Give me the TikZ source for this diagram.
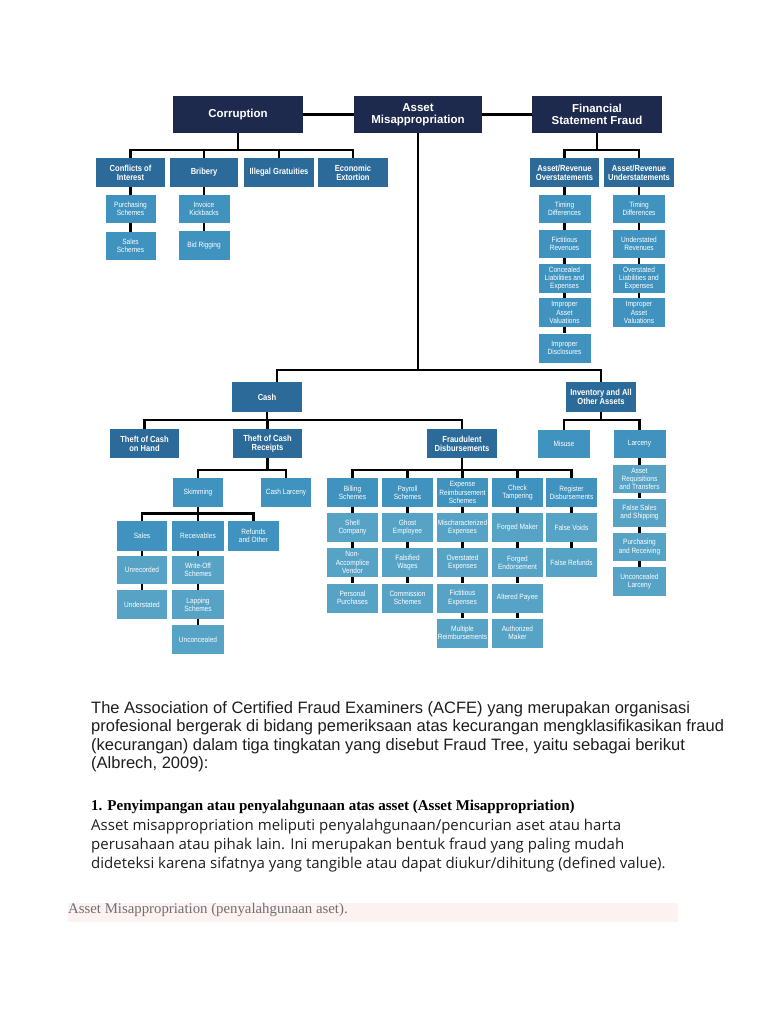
\documentclass[tikz,border=0pt]{standalone}
\usepackage{fontspec}
\usepackage{graphicx}
\usetikzlibrary{backgrounds}
\newfontfamily\boxsans[FakeStretch=0.86]{Liberation Sans}
\newfontfamily\topsans{Liberation Sans}
\newfontfamily\arialf{Liberation Sans}
\newfontfamily\opensf{Open Sans}
\newfontfamily\timesf{Liberation Serif}
\definecolor{navy}{HTML}{1D2A4D}
\definecolor{midblue}{HTML}{2B6A99}
\definecolor{lightA}{HTML}{3F93BE}
\definecolor{lightB}{HTML}{56A3C6}
\definecolor{txtdark}{HTML}{1E1E1E}
\definecolor{capgray}{HTML}{707070}
\definecolor{bandpink}{HTML}{FDF2F2}
\tikzset{
  bx/.style={rectangle, inner sep=0pt, align=center, text=white},
  lvone/.style={bx, fill=navy, minimum width=130pt, minimum height=37pt,
    font=\topsans\bfseries\fontsize{11.5}{12.5}\selectfont},
  lvtwo/.style={bx, fill=midblue, minimum width=70pt, minimum height=29pt,
    font=\boxsans\bfseries\fontsize{8.8}{9.2}\selectfont},
  lvthree/.style={bx, fill=lightA, minimum width=51pt, minimum height=29pt,
    font=\boxsans\fontsize{7.6}{8.2}\selectfont},
  lvfour/.style={lvthree, fill=lightB},
  conn/.style={draw=black, line width=2.6pt, line join=miter},
  topconn/.style={draw=black, line width=3.2pt},
  txt/.style={inner sep=0pt, anchor=base west}
}
\begin{document}
\begin{tikzpicture}[x=1pt,y=-1pt]
\useasboundingbox (0,0) rectangle (768,1024);

% ---- top level
\node[lvone, minimum width=130pt] (corr) at (238,114.5) {Corruption};
\node[lvone, minimum width=128pt] (am) at (418,114.5) {Asset\\Misappropriation};
\node[lvone] (fsf) at (597,114.5) {Financial\\Statement Fraud};

% ---- corruption
\node[lvtwo, minimum width=69pt] (coi) at (130.5,172.5) {Conflicts of\\Interest};
\node[lvtwo, minimum width=68pt] (bri) at (204,172.5) {Bribery};
\node[lvtwo] (ill) at (279,172.5) {Illegal Gratuities};
\node[lvtwo] (eco) at (353,172.5) {Economic\\Extortion};
\node[lvthree, minimum width=50pt, minimum height=28pt] (ps) at (130.5,209) {Purchasing\\Schemes};
\node[lvthree, minimum width=50pt, minimum height=28pt] (ss) at (130.5,246) {Sales\\Schemes};
\node[lvthree, minimum width=51pt, minimum height=28pt] (ik) at (204,209) {Invoice\\Kickbacks};
\node[lvthree, minimum width=51pt, minimum height=28pt] (bid) at (204,245.5) {Bid Rigging};

% ---- financial statement fraud
\node[lvtwo, minimum width=69pt] (aro) at (564.5,172.5) {Asset/Revenue\\Overstatements};
\node[lvtwo] (aru) at (639,172.5) {Asset/Revenue\\Understatements};
\node[lvthree, minimum width=52pt, minimum height=28pt] (oa) at (564.5,209) {Timing\\Differences};
\node[lvthree, minimum width=52pt, minimum height=28pt] (ob) at (564.5,244) {Fictitious\\Revenues};
\node[lvthree, minimum width=52pt] (oc) at (564.5,278.5) {Concealed\\Liabilities and\\Expenses};
\node[lvthree, minimum width=52pt] (od) at (564.5,312.5) {Improper\\Asset\\Valuations};
\node[lvthree, minimum width=52pt] (oe) at (564.5,348) {Improper\\Disclosures};
\node[lvthree, minimum width=52pt, minimum height=28pt] (ua) at (639,209) {Timing\\Differences};
\node[lvthree, minimum width=52pt, minimum height=28pt] (ub) at (639,244) {Understated\\Revenues};
\node[lvthree, minimum width=52pt] (uc) at (639,278.5) {Overstated\\Liabilities and\\Expenses};
\node[lvthree, minimum width=52pt] (ud) at (639,312.5) {Improper\\Asset\\Valuations};

% ---- asset misappropriation
\node[lvtwo, minimum height=30pt] (cash) at (267,397) {Cash};
\node[lvtwo, minimum height=30pt] (inv) at (601,397) {Inventory and All\\Other Assets};
\node[lvtwo, minimum width=69pt] (tch) at (144.5,443.5) {Theft of Cash\\on Hand};
\node[lvtwo, minimum width=69pt] (tcr) at (267.5,443.5) {Theft of Cash\\Receipts};
\node[lvtwo] (fd) at (462,443.5) {Fraudulent\\Disbursements};
\node[lvthree, minimum width=52pt, minimum height=28pt] (mis) at (564,444) {Misuse};
\node[lvthree, minimum width=52pt, minimum height=28pt] (lar) at (639.5,444) {Larceny};
\node[lvfour, minimum width=53pt, minimum height=28pt] (la) at (639.5,479) {Asset\\Requisitions\\and Transfers};
\node[lvfour, minimum width=53pt, minimum height=28pt] (lb) at (639.5,512.5) {False Sales\\and Shipping};
\node[lvfour, minimum width=53pt, minimum height=28pt] (lc) at (639.5,547) {Purchasing\\and Receiving};
\node[lvfour, minimum width=53pt] (ld) at (639.5,581.5) {Unconcealed\\Larceny};

% skimming branch
\node[lvthree, minimum width=50pt] (skim) at (198,492.5) {Skimming};
\node[lvthree, minimum width=50pt] (cl) at (286,492.5) {Cash Larceny};
\node[lvthree, minimum width=50pt, minimum height=30pt] (sales) at (142,536) {Sales};
\node[lvthree, minimum width=52pt, minimum height=30pt] (rec) at (198,536) {Receivables};
\node[lvthree, minimum width=51pt, minimum height=30pt] (ref) at (253.5,536) {Refunds\\and Other};
\node[lvfour, minimum width=50pt, minimum height=28pt] (unr) at (142,570) {Unrecorded};
\node[lvfour, minimum width=50pt] (und) at (142,604.5) {Understated};
\node[lvfour, minimum width=52pt, minimum height=28pt] (wo) at (198,570) {Write-Off\\Schemes};
\node[lvfour, minimum width=52pt] (lap) at (198,604.5) {Lapping\\Schemes};
\node[lvfour, minimum width=52pt] (unc) at (198,639.5) {Unconcealed};

% fraudulent disbursements branch
\node[lvthree] (bill) at (352.5,492.5) {Billing\\Schemes};
\node[lvthree] (pay) at (407.5,492.5) {Payroll\\Schemes};
\node[lvthree] (exp) at (462.5,492.5) {Expense\\Reimbursement\\Schemes};
\node[lvthree] (chk) at (517.5,492.5) {Check\\Tampering};
\node[lvthree] (reg) at (571.5,492.5) {Register\\Disbursements};
\node[lvfour] (bill2) at (352.5,527.5) {Shell\\Company};
\node[lvfour] (bill3) at (352.5,562.5) {Non-\\Accomplice\\Vendor};
\node[lvfour] (bill4) at (352.5,598) {Personal\\Purchases};
\node[lvfour] (pay2) at (407.5,527.5) {Ghost\\Employee};
\node[lvfour] (pay3) at (407.5,562.5) {Falsified\\Wages};
\node[lvfour] (pay4) at (407.5,598) {Commission\\Schemes};
\node[lvfour] (exp2) at (462.5,527.5) {Mischaracterized\\Expenses};
\node[lvfour] (exp3) at (462.5,562.5) {Overstated\\Expenses};
\node[lvfour] (exp4) at (462.5,598) {Fictitious\\Expenses};
\node[lvfour] (exp5) at (462.5,633) {Multiple\\Reimbursements};
\node[lvfour] (chk2) at (517.5,527.5) {Forged Maker};
\node[lvfour] (chk3) at (517.5,562.5) {Forged\\Endorsement};
\node[lvfour] (chk4) at (517.5,598) {Altered Payee};
\node[lvfour] (chk5) at (517.5,633) {Authorized\\Maker};
\node[lvfour] (reg2) at (571.5,527.5) {False Voids};
\node[lvfour] (reg3) at (571.5,562.5) {False Refunds};

% ---- bus coordinates
\coordinate (busA) at (0,150);
\coordinate (busB) at (0,370);
\coordinate (busC) at (0,420);
\coordinate (busD) at (0,470);
\coordinate (busE) at (0,513.5);
\coordinate (cashdrop) at (277,0);

\begin{pgfonlayer}{background}
\draw[topconn] (corr.east) -- (am.west);
\draw[topconn] (am.east) -- (fsf.west);
% corruption
\draw[conn] (corr.south) -- (corr.south |- busA);
\draw[conn] (coi.north) |- (eco.north |- busA) -- (eco.north);
\draw[conn] (bri.north) -- (bri.north |- busA);
\draw[conn] (ill.north) -- (ill.north |- busA);
\draw[conn] (coi.south) -- (ps.north);
\draw[conn] (ps.south) -- (ss.north);
\draw[conn] (bri.south) -- (ik.north);
\draw[conn] (ik.south) -- (bid.north);
% fsf
\draw[conn] (fsf.south) -- (fsf.south |- busA);
\draw[conn] (aro.north) |- (aru.north |- busA) -- (aru.north);
\draw[conn] (aro.south) -- (oa.north);
\draw[conn] (oa.south) -- (ob.north);
\draw[conn] (ob.south) -- (oc.north);
\draw[conn] (oc.south) -- (od.north);
\draw[conn] (od.south) -- (oe.north);
\draw[conn] (aru.south) -- (ua.north);
\draw[conn] (ua.south) -- (ub.north);
\draw[conn] (ub.south) -- (uc.north);
\draw[conn] (uc.south) -- (ud.north);
% asset misappropriation
\draw[conn] (am.south) -- (am.south |- busB);
\draw[conn] (cash.north -| cashdrop) |- (inv.north |- busB) -- (inv.north);
\draw[conn] (cash.south) -- (cash.south |- busC);
\draw[conn] (tch.north) |- (fd.north |- busC) -- (fd.north);
\draw[conn] (tcr.north) -- (tcr.north |- busC);
\draw[conn] (inv.south) -- (inv.south |- busC);
\draw[conn] (mis.north) |- (lar.north |- busC) -- (lar.north);
\draw[conn] (lar.south) -- (la.north);
\draw[conn] (la.south) -- (lb.north);
\draw[conn] (lb.south) -- (lc.north);
\draw[conn] (lc.south) -- (ld.north);
% theft of cash receipts
\draw[conn] (tcr.south) -- (tcr.south |- busD);
\draw[conn] (skim.north) |- (cl.north |- busD) -- (cl.north);
\draw[conn] (skim.south) -- (skim.south |- busE);
\draw[conn] (sales.north) |- (ref.north |- busE) -- (ref.north);
\draw[conn] (rec.north) -- (rec.north |- busE);
\draw[conn] (sales.south) -- (unr.north);
\draw[conn] (unr.south) -- (und.north);
\draw[conn] (rec.south) -- (wo.north);
\draw[conn] (wo.south) -- (lap.north);
\draw[conn] (lap.south) -- (unc.north);
% fraudulent disbursements
\draw[conn] (fd.south) -- (fd.south |- busD);
\draw[conn] (bill.north) |- (reg.north |- busD) -- (reg.north);
\draw[conn] (pay.north) -- (pay.north |- busD);
\draw[conn] (exp.north) -- (exp.north |- busD);
\draw[conn] (chk.north) -- (chk.north |- busD);
\draw[conn] (bill.south) -- (bill2.north);
\draw[conn] (bill2.south) -- (bill3.north);
\draw[conn] (bill3.south) -- (bill4.north);
\draw[conn] (pay.south) -- (pay2.north);
\draw[conn] (pay2.south) -- (pay3.north);
\draw[conn] (pay3.south) -- (pay4.north);
\draw[conn] (exp.south) -- (exp2.north);
\draw[conn] (exp2.south) -- (exp3.north);
\draw[conn] (exp3.south) -- (exp4.north);
\draw[conn] (exp4.south) -- (exp5.north);
\draw[conn] (chk.south) -- (chk2.north);
\draw[conn] (chk2.south) -- (chk3.north);
\draw[conn] (chk3.south) -- (chk4.north);
\draw[conn] (chk4.south) -- (chk5.north);
\draw[conn] (reg.south) -- (reg2.north);
\draw[conn] (reg2.south) -- (reg3.north);
\end{pgfonlayer}

% ---- text below
\node[txt, text=txtdark, font=\arialf\fontsize{16.5}{18}\selectfont] (p1a) at (91,713) {The Association of Certified Fraud Examiners (ACFE) yang merupakan organisasi};
\node[txt, text=txtdark, font=\arialf\fontsize{16.5}{18}\selectfont] (p1b) at (91,731.5) {profesional bergerak di bidang pemeriksaan atas kecurangan mengklasifikasikan fraud};
\node[txt, text=txtdark, font=\arialf\fontsize{16.5}{18}\selectfont] (p1c) at (91,750) {(kecurangan) dalam tiga tingkatan yang disebut Fraud Tree, yaitu sebagai berikut};
\node[txt, text=txtdark, font=\arialf\fontsize{16.5}{18}\selectfont] (p1d) at (91,768.5) {(Albrech, 2009):};

\node[txt, text=black, font=\timesf\bfseries\fontsize{15}{17}\selectfont] (hd) at (91,810) {1. Penyimpangan atau penyalahgunaan atas asset (Asset Misappropriation)};
\node[txt, text=txtdark, font=\opensf\fontsize{15}{17}\selectfont] (p2a) at (91,830) {Asset misappropriation meliputi penyalahgunaan/pencurian aset atau harta};
\node[txt, text=txtdark, font=\opensf\fontsize{15}{17}\selectfont] (p2b) at (91,849) {perusahaan atau pihak lain. Ini merupakan bentuk fraud yang paling mudah};
\node[txt, text=txtdark, font=\opensf\fontsize{15}{17}\selectfont] (p2c) at (91,868) {dideteksi karena sifatnya yang tangible atau dapat diukur/dihitung (defined value).};

\node[rectangle, fill=bandpink, inner sep=0pt, minimum width=610pt, minimum height=19pt, anchor=north west] (band) at (68,903) {};
\node[txt, text=capgray, font=\timesf\fontsize{14.8}{16}\selectfont] (cap) at (68,913.5) {Asset Misappropriation (penyalahgunaan aset).};
\end{tikzpicture}
\end{document}
